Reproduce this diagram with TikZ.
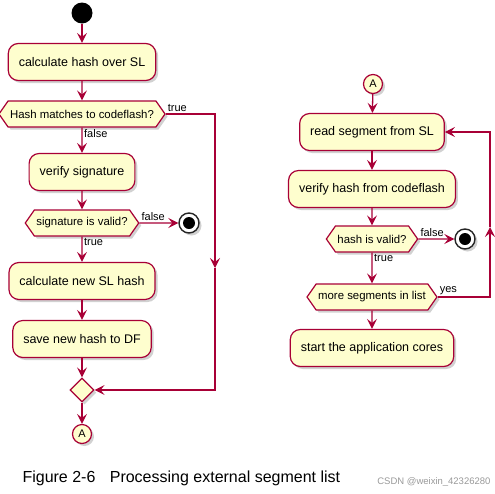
\documentclass[tikz,border=0pt]{standalone}
\usepackage{fontspec}
\setmainfont{Liberation Sans}
\usepackage{tikz}
\usetikzlibrary{arrows.meta,shapes.geometric,shapes.symbols,shadows}
\definecolor{umlfill}{RGB}{254,254,206}
\definecolor{umlline}{RGB}{168,0,54}

\begin{document}
\begin{tikzpicture}[x=1pt,y=-1pt,
    umlshadow/.style={drop shadow={shadow xshift=2.5pt,shadow yshift=-2.5pt,fill=black!40,opacity=0.45}},
    action/.style={rectangle,rounded corners=10pt,draw=umlline,fill=umlfill,line width=1.2pt,
        minimum height=37pt,inner xsep=10.5pt,font=\fontsize{12.5}{14}\selectfont,umlshadow},
    decision/.style={signal,signal to=west and east,signal pointer angle=110,draw=umlline,
        fill=umlfill,line width=1.2pt,minimum height=26pt,inner xsep=2pt,
        font=\fontsize{11.4}{13}\selectfont,umlshadow},
    mergebox/.style={diamond,draw=umlline,fill=umlfill,line width=1.2pt,minimum size=24pt,
        inner sep=0pt,umlshadow},
    connector/.style={circle,draw=umlline,fill=umlfill,line width=1.2pt,minimum size=19pt,
        inner sep=0pt,font=\fontsize{11}{13}\selectfont,umlshadow},
    startdot/.style={circle,fill=black,minimum size=21pt,inner sep=0pt},
    stopdot/.style={circle,draw=black!85,fill=white,line width=1.4pt,minimum size=20pt,
        inner sep=0pt,umlshadow,
        path picture={\fill[black] (path picture bounding box.center) circle (6pt);}},
    flow/.style={draw=umlline,line width=1.3pt,-{Stealth[length=10pt,width=10pt,inset=4pt]}},
    lbl/.style={font=\fontsize{11}{13}\selectfont,inner sep=1.5pt}]
    \useasboundingbox (0,0) rectangle (495,493);

    % left branch
    \node[startdot] (start) at (82,13) {};
    \node[action] (calc) at (82,62) {calculate hash over SL};
    \node[decision] (hashok) at (82,114) {Hash matches to codeflash?};
    \node[action] (verify) at (82,172) {verify signature};
    \node[decision] (sigok) at (82,223) {signature is valid?};
    \node[stopdot] (stopa) at (189,223) {};
    \node[action] (newhash) at (82,281) {calculate new SL hash};
    \node[action] (save) at (82,339) {save new hash to DF};
    \node[mergebox] (merge) at (82,390) {};
    \node[connector] (cona) at (82,434) {A};

    \draw[flow] (start) -- (calc);
    \draw[flow] (calc) -- (hashok);
    \draw[flow] (hashok) -- node[lbl,pos=0,anchor=north west] {false} (verify);
    \draw[flow] (verify) -- (sigok);
    \draw[flow] (sigok) -- node[lbl,pos=0,anchor=south west] {false} (stopa);
    \draw[flow] (sigok) -- node[lbl,pos=0,anchor=north west] {true} (newhash);
    \draw[flow] (newhash) -- (save);
    \draw[flow] (save) -- (merge);
    \draw[flow] (merge) -- (cona);

    % true path round the signature check
    \coordinate (tturn) at (215,114);
    \coordinate (tmid) at (215,268);
    \coordinate (tlow) at (215,390);
    \draw[flow] (hashok.east) -- node[lbl,pos=0,anchor=south west] {true} (tturn) -- (tmid);
    \draw[flow] (tmid) -- (tlow) -- (merge.east);

    % right branch
    \node[connector] (conb) at (373,84) {A};
    \node[action] (read) at (372,132) {read segment from SL};
    \node[action] (verhash) at (372,189) {verify hash from codeflash};
    \node[decision] (hashvalid) at (372,239) {hash is valid?};
    \node[stopdot] (stopb) at (465,239) {};
    \node[decision] (more) at (372,297) {more segments in list};
    \node[action] (cores) at (372,348) {start the application cores};

    \draw[flow] (conb) -- (read);
    \draw[flow] (read) -- (verhash);
    \draw[flow] (verhash) -- (hashvalid);
    \draw[flow] (hashvalid) -- node[lbl,pos=0,anchor=south west] {false} (stopb);
    \draw[flow] (hashvalid) -- node[lbl,pos=0,anchor=north west] {true} (more);
    \draw[flow] (more) -- (cores);

    % loop back for the next segment
    \coordinate (yturn) at (490,297);
    \coordinate (ymid) at (490,227);
    \coordinate (ytop) at (490,132);
    \draw[flow] (more.east) -- node[lbl,pos=0,anchor=south west] {yes} (yturn) -- (ymid);
    \draw[flow] (ymid) -- (ytop) -- (read.east);

    % caption
    \node[anchor=west,font=\fontsize{16}{19}\selectfont] (caption) at (19,478)
        {Figure 2-6\hspace{0.9em}Processing external segment list};
    \node[anchor=east,font=\fontsize{9.5}{11}\selectfont,text=black!40] (mark) at (494,482)
        {CSDN @weixin\_42326280};
\end{tikzpicture}
\end{document}
